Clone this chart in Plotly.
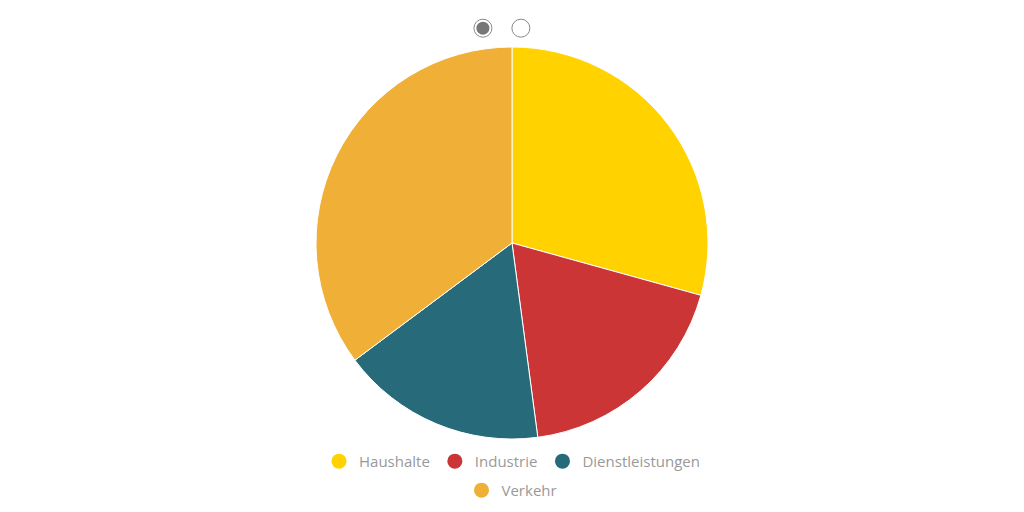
import plotly.graph_objects as go

# Endenergieverbrauch nach Sektoren (Anteile in %, aus dem Bild geschätzt)
sectors = ["Haushalte", "Industrie", "Dienstleistungen", "Verkehr"]
shares = [29.3, 18.6, 16.9, 35.2]
colors = ["#FFD200", "#CC3535", "#276B7A", "#F0AF36"]
# which legend row each sector goes into
legend_rows = ["legend", "legend", "legend", "legend2"]

fig = go.Figure()
fig.add_trace(go.Pie(
    labels=sectors,
    values=shares,
    sort=False,
    direction="clockwise",
    rotation=0,
    textinfo="none",
    hoverinfo="label+percent",
    marker=dict(colors=colors, line=dict(color="white", width=1)),
    showlegend=False,
))

# dummy traces so the legend gets round symbols
for name, col, lg in zip(sectors, colors, legend_rows):
    fig.add_trace(go.Scatter(
        x=[None], y=[None], mode="markers", name=name, legend=lg,
        marker=dict(symbol="circle", size=15, color=col),
    ))

# the two little toggle circles above the pie
def ring(xa, r, fill, lw):
    return dict(type="circle", xref="paper", yref="paper", xsizemode="pixel", ysizemode="pixel",
                xanchor=xa, yanchor=1.048, x0=-r, x1=r, y0=-r, y1=r,
                line=dict(color="#888888", width=lw), fillcolor=fill)

toggles = [ring(0.428, 9, "white", 1), ring(0.428, 6.5, "#777777", 0), ring(0.522, 9, "white", 1)]

legend_style = dict(
    orientation="h",
    x=0.5, xanchor="center",
    yanchor="top",
    font=dict(family="Open Sans, sans-serif", size=15, color="#999999"),
    itemclick=False,
    bgcolor="rgba(0,0,0,0)",
)

# the page adds an 8px body margin, so margins are shifted to compensate
fig.update_layout(
    width=1024,
    height=512,
    margin=dict(l=302, r=318, t=39, b=81),
    paper_bgcolor="white",
    plot_bgcolor="white",
    font=dict(family="Open Sans, sans-serif", size=15, color="#999999"),
    xaxis=dict(visible=False),
    yaxis=dict(visible=False),
    shapes=toggles,
    legend=dict(legend_style, y=-0.015),
    legend2=dict(legend_style, y=-0.089),
)

fig.write_html("out.html")
